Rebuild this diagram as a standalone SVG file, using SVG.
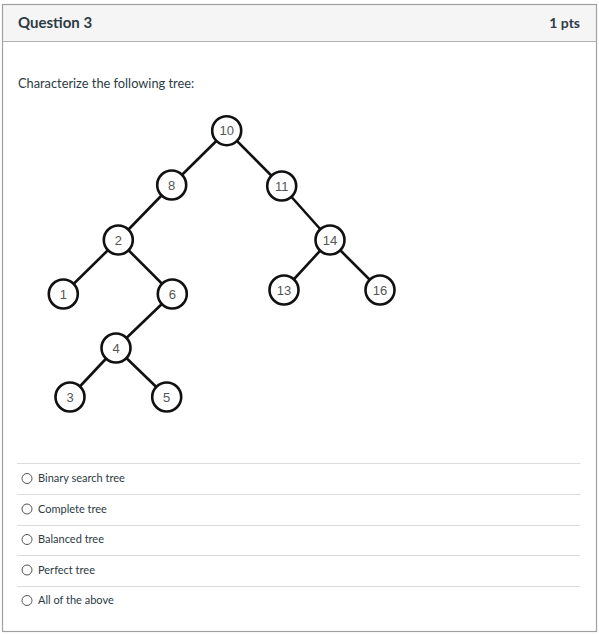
<svg xmlns="http://www.w3.org/2000/svg" width="599" height="635" viewBox="0 0 599 635">
<style>
.ui{font-family:Lato,"Liberation Sans",sans-serif;fill:#2d3b45}
.opt{font-family:Lato,"Liberation Sans",sans-serif;font-size:11px;fill:#2d3b45}
.sep{stroke:#dcdcdc;stroke-width:1}
.radio{fill:#fff;stroke:#555;stroke-width:1}
.edge{stroke:#111;stroke-width:2.6;fill:none}
.node circle{fill:#fff;stroke:#111;stroke-width:2.6}
.node text{font-family:"Liberation Sans",Arial,sans-serif;font-size:13px;fill:#555;text-anchor:middle;dominant-baseline:central}
</style>
<rect x="0" y="0" width="599" height="635" fill="#fff"/>
<rect x="2.5" y="4.5" width="594" height="37" fill="#f5f5f5"/>
<rect x="2.5" y="4.5" width="594" height="627" fill="none" stroke="#a0a0a0" stroke-width="1.2"/>
<line x1="2.5" y1="41.5" x2="596.5" y2="41.5" stroke="#b0b0b0" stroke-width="1"/>
<text class="ui" x="18" y="27.5" font-size="15" font-weight="bold">Question 3</text>
<text class="ui" x="580" y="27.5" font-size="14" font-weight="bold" text-anchor="end">1 pts</text>
<text class="ui" x="18" y="88" font-size="12.8">Characterize the following tree:</text>
<g id="connectors">
<line class="edge" x1="226.7" y1="130.7" x2="171.7" y2="185"/>
<line class="edge" x1="226.7" y1="130.7" x2="281.7" y2="186"/>
<line class="edge" x1="171.7" y1="185" x2="118.3" y2="240"/>
<line class="edge" x1="281.7" y1="186" x2="330" y2="240"/>
<line class="edge" x1="118.3" y1="240" x2="63.3" y2="294"/>
<line class="edge" x1="118.3" y1="240" x2="172.3" y2="294"/>
<line class="edge" x1="330" y1="240" x2="284" y2="290"/>
<line class="edge" x1="330" y1="240" x2="380" y2="290"/>
<line class="edge" x1="172.3" y1="294" x2="116" y2="348"/>
<line class="edge" x1="116" y1="348" x2="70" y2="397"/>
<line class="edge" x1="116" y1="348" x2="166.7" y2="397"/>
</g>
<g id="n10" class="node"><circle cx="226.7" cy="130.7" r="14.5"/><text x="226.7" y="130.7">10</text></g>
<g id="n8" class="node"><circle cx="171.7" cy="185" r="14.5"/><text x="171.7" y="185">8</text></g>
<g id="n11" class="node"><circle cx="281.7" cy="186" r="14.5"/><text x="281.7" y="186">11</text></g>
<g id="n2" class="node"><circle cx="118.3" cy="240" r="14.5"/><text x="118.3" y="240">2</text></g>
<g id="n14" class="node"><circle cx="330" cy="240" r="14.5"/><text x="330" y="240">14</text></g>
<g id="n1" class="node"><circle cx="63.3" cy="294" r="14.5"/><text x="63.3" y="294">1</text></g>
<g id="n6" class="node"><circle cx="172.3" cy="294" r="14.5"/><text x="172.3" y="294">6</text></g>
<g id="n13" class="node"><circle cx="284" cy="290" r="14.5"/><text x="284" y="290">13</text></g>
<g id="n16" class="node"><circle cx="380" cy="290" r="14.5"/><text x="380" y="290">16</text></g>
<g id="n4" class="node"><circle cx="116" cy="348" r="14.5"/><text x="116" y="348">4</text></g>
<g id="n3" class="node"><circle cx="70" cy="397" r="14.5"/><text x="70" y="397">3</text></g>
<g id="n5" class="node"><circle cx="166.7" cy="397" r="14.5"/><text x="166.7" y="397">5</text></g>
<line class="sep" x1="17" y1="463.5" x2="580.5" y2="463.5"/>
<line class="sep" x1="17" y1="494.5" x2="580.5" y2="494.5"/>
<line class="sep" x1="17" y1="525.5" x2="580.5" y2="525.5"/>
<line class="sep" x1="17" y1="555.5" x2="580.5" y2="555.5"/>
<line class="sep" x1="17" y1="586.5" x2="580.5" y2="586.5"/>
<circle class="radio" cx="27" cy="478.5" r="5"/><text class="opt" x="38" y="482">Binary search tree</text>
<circle class="radio" cx="27" cy="509" r="5"/><text class="opt" x="38" y="512.5">Complete tree</text>
<circle class="radio" cx="27" cy="539.5" r="5"/><text class="opt" x="38" y="543">Balanced tree</text>
<circle class="radio" cx="27" cy="570" r="5"/><text class="opt" x="38" y="573.5">Perfect tree</text>
<circle class="radio" cx="27" cy="600.5" r="5"/><text class="opt" x="38" y="603.5">All of the above</text>
</svg>
